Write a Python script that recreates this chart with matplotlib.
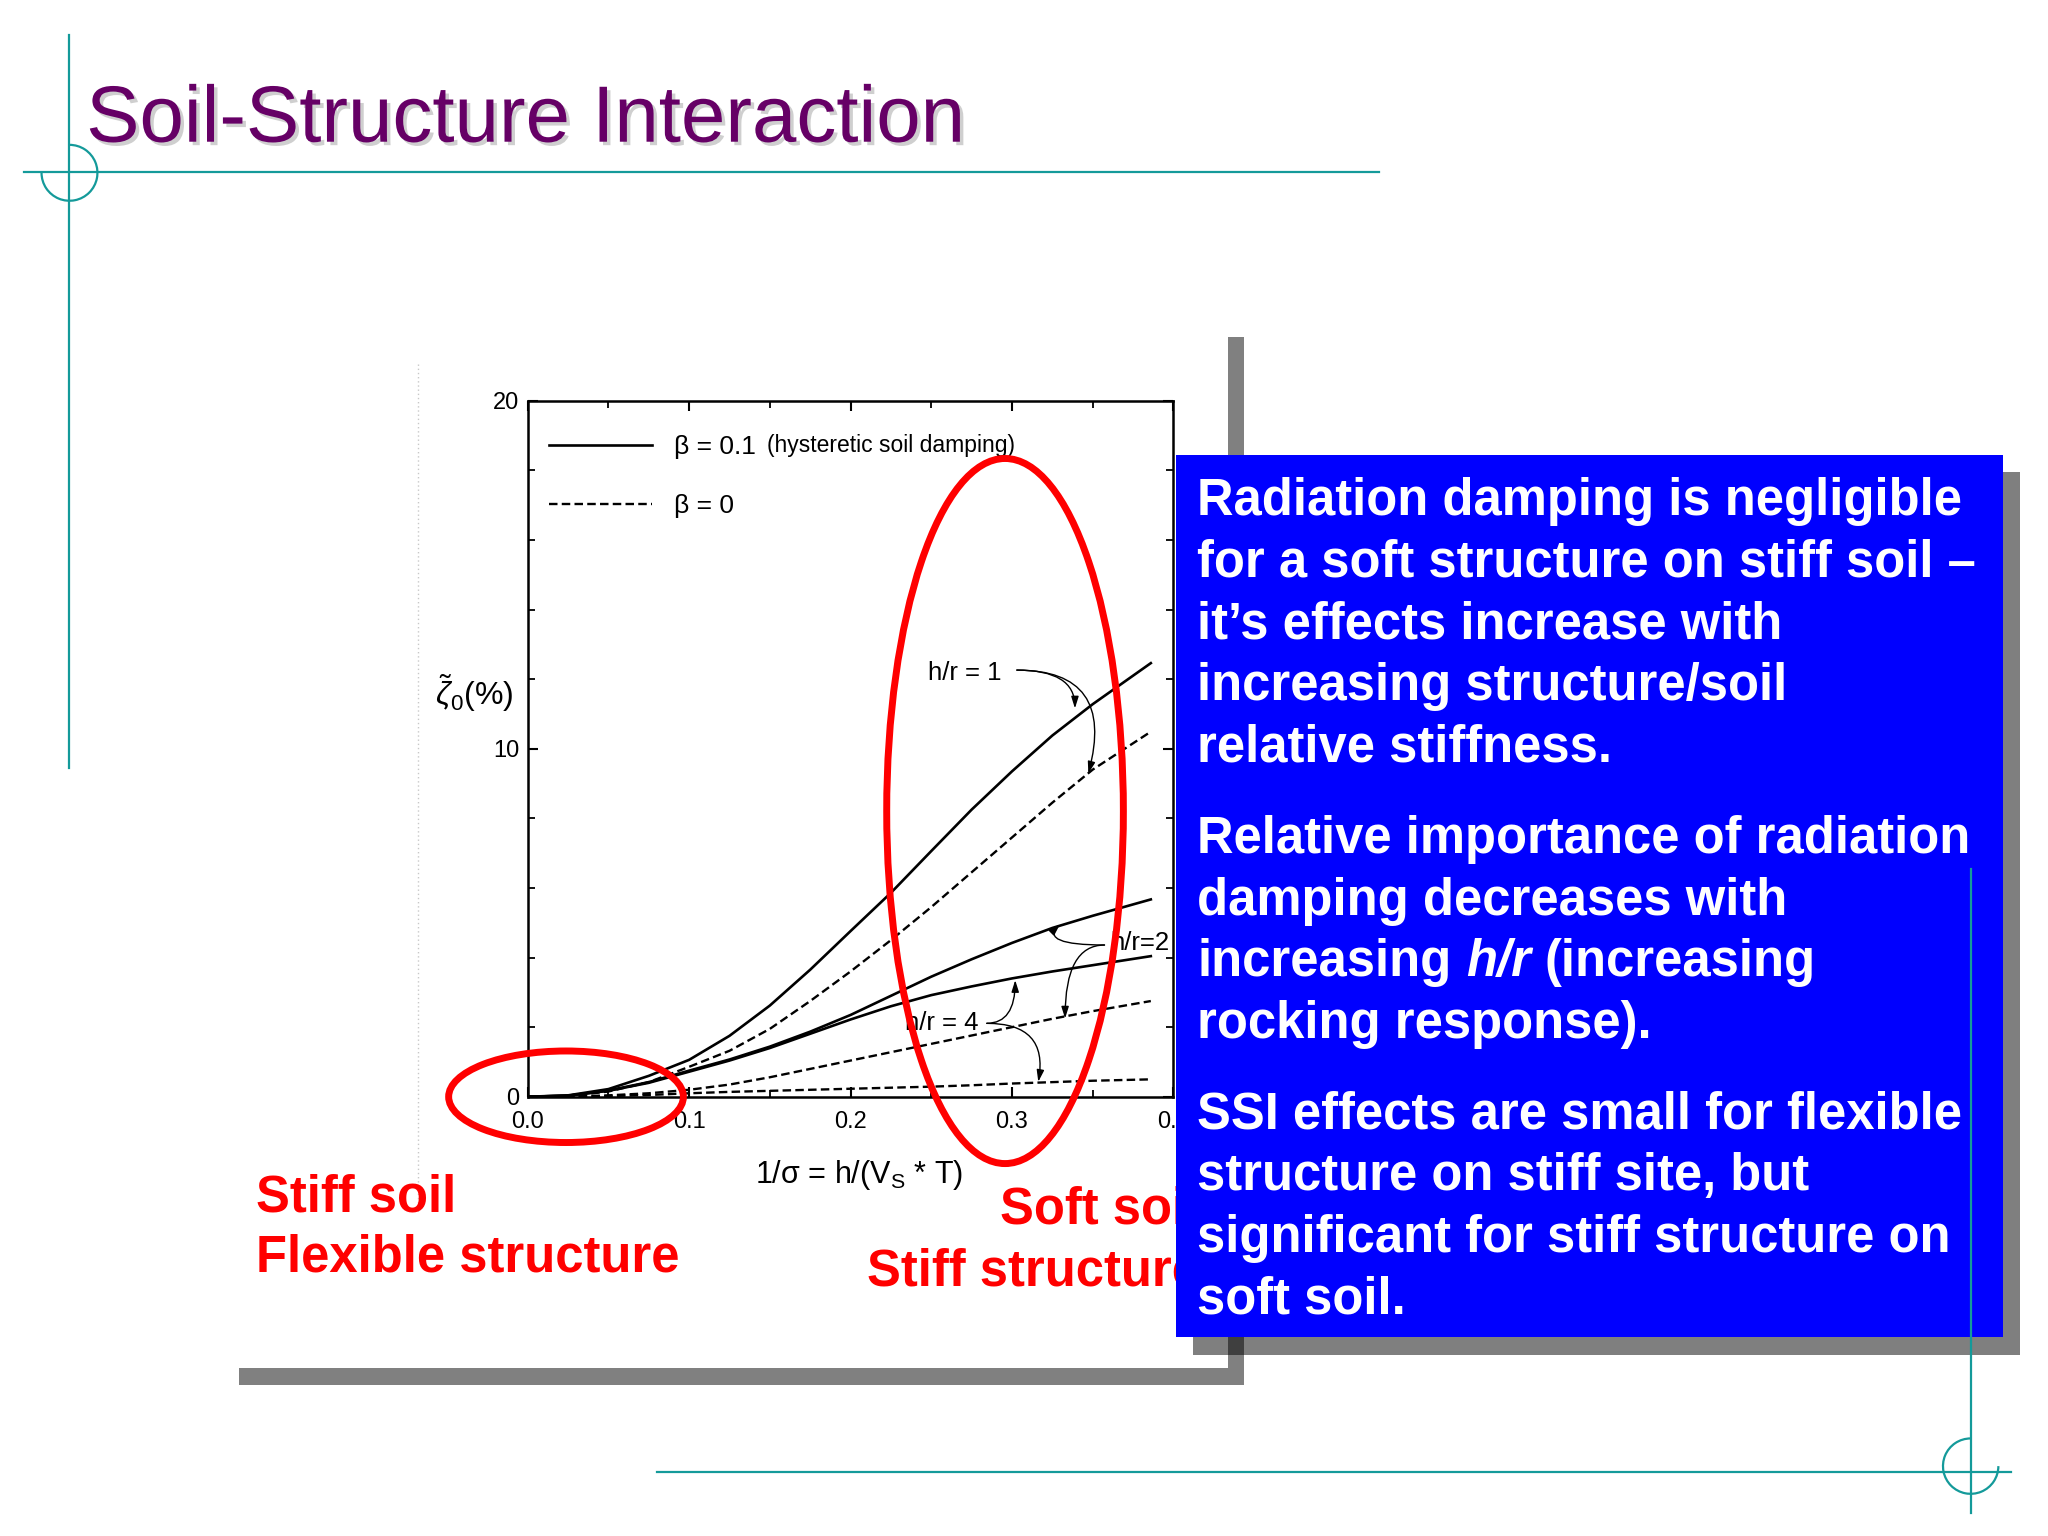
import matplotlib
matplotlib.use('Agg')
import matplotlib.pyplot as plt
from matplotlib.patches import Rectangle, Ellipse, Arc, Polygon
from matplotlib.lines import Line2D
import matplotlib.patheffects as pe

plt.rcParams['font.family'] = ['Liberation Sans', 'DejaVu Sans']
plt.rcParams['mathtext.fontset'] = 'custom'
plt.rcParams['mathtext.rm'] = 'Liberation Sans'
plt.rcParams['mathtext.it'] = 'Liberation Sans:italic'
plt.rcParams['mathtext.bf'] = 'Liberation Sans:bold'

# ---------------- data ----------------
inv_sigma = [0.0, 0.025, 0.05, 0.075, 0.1, 0.125, 0.15, 0.175, 0.2,
             0.225, 0.25, 0.275, 0.3, 0.325, 0.35, 0.386]
# beta = 0.1 (solid)
hr1_beta01 = [0, 0.04, 0.22, 0.60, 1.06, 1.75, 2.62, 3.65, 4.76,
              5.86, 7.06, 8.25, 9.35, 10.38, 11.28, 12.46]
hr2_beta01 = [0, 0.03, 0.18, 0.42, 0.75, 1.07, 1.44, 1.87, 2.35,
              2.9, 3.45, 3.95, 4.42, 4.85, 5.2, 5.67]
hr4_beta01 = [0, 0.03, 0.17, 0.40, 0.72, 1.04, 1.40, 1.81, 2.22,
              2.6, 2.92, 3.17, 3.4, 3.6, 3.78, 4.04]
# beta = 0 (dashed)
hr1_beta0 = [0, 0.02, 0.15, 0.42, 0.86, 1.32, 1.95, 2.75, 3.6,
             4.5, 5.45, 6.45, 7.45, 8.45, 9.4, 10.49]
hr2_beta0 = [0, 0.0, 0.04, 0.10, 0.20, 0.35, 0.56, 0.80, 1.04,
             1.28, 1.52, 1.76, 2.0, 2.24, 2.46, 2.75]
hr4_beta0 = [0, 0.0, 0.02, 0.05, 0.10, 0.14, 0.17, 0.20, 0.23,
             0.26, 0.29, 0.33, 0.38, 0.42, 0.46, 0.50]

x_ticks = [0.0, 0.1, 0.2, 0.3, 0.4]
x_ticklabels = ['0.0', '0.1', '0.2', '0.3', '0.4']
y_ticks = [0, 10, 20]
y_ticklabels = ['0', '10', '20']

title = 'Soil-Structure Interaction'
para1 = ['Radiation damping is negligible',
         'for a soft structure on stiff soil \u2013',
         'it\u2019s effects increase with',
         'increasing structure/soil',
         'relative stiffness.']
para2 = ['Relative importance of radiation',
         'damping decreases with',
         ('increasing ', 'h/r', ' (increasing'),
         'rocking response).']
para3 = ['SSI effects are small for flexible',
         'structure on stiff site, but',
         'significant for stiff structure on',
         'soft soil.']

# ---------------- layout helpers (reference layout units) ----------------
W, H = 1568.0, 1176.0
def fx(d):
    return d / W
def fy(d):
    return 1 - d / H

TEAL = '#149a9a'
PURPLE = '#660066'
RED = '#ff0000'
BLUE = '#0000ff'

fig = plt.figure(figsize=(20.48, 15.36), dpi=100)
fig.patch.set_facecolor('white')
tf = fig.transFigure

def fline(xs, ys, **kw):
    fig.add_artist(Line2D([fx(v) for v in xs], [fy(v) for v in ys],
                          transform=tf, **kw))

# teal decorations
fline([18.5, 1056], [131.4, 131.4], color=TEAL, lw=1.6, zorder=2)
fline([52.8, 52.8], [26.8, 588], color=TEAL, lw=1.6, zorder=2)
fig.add_artist(Arc((fx(53.2), fy(132.3)), 2 * 21.4 / W, 2 * 21.4 / H,
                   theta1=180, theta2=450, transform=tf, color=TEAL,
                   lw=1.6, zorder=2))
fline([503, 1540], [1127, 1127], color=TEAL, lw=1.6, zorder=25)
fline([1508.8, 1508.8], [665, 1158.6], color=TEAL, lw=1.6, zorder=25)
fig.add_artist(Arc((fx(1508.8), fy(1122.5)), 2 * 21.2 / W, 2 * 21.2 / H,
                   theta1=90, theta2=360, transform=tf, color=TEAL,
                   lw=1.6, zorder=25))

# title
fig.text(fx(66), fy(108.5), title, fontsize=57.5, color=PURPLE,
         va='baseline', ha='left', zorder=3,
         path_effects=[pe.SimplePatchShadow(offset=(2.5, -2.5),
                                            shadow_rgbFace='#a0a0a0',
                                            alpha=0.5),
                       pe.Normal()])

# picture shadow (L shape)
shadow_pts = [(940, 258.3), (952.6, 258.3), (952.6, 1060.5),
              (182.7, 1060.5), (182.7, 1047), (940, 1047)]
fig.add_artist(Polygon([(fx(a), fy(b)) for a, b in shadow_pts],
                       closed=True, transform=tf, fc='#808080',
                       ec='none', zorder=1))
# faint dotted picture edge
fline([319.7, 319.7], [278.7, 927.7], color='#c8c8c8', lw=1.0,
      ls=(0, (1, 2)), zorder=1)

# ---------------- chart ----------------
ax = fig.add_axes([fx(404), fy(839.7), (898.4 - 404) / W,
                   (839.7 - 306.8) / H], zorder=5)
ax.set_xlim(0, 0.4)
ax.set_ylim(0, 20)
DASH = (0, (3.6, 1.8))
ax.plot(inv_sigma, hr1_beta01, color='k', lw=1.9)
ax.plot(inv_sigma, hr2_beta01, color='k', lw=1.9)
ax.plot(inv_sigma, hr4_beta01, color='k', lw=1.9)
ax.plot(inv_sigma, hr1_beta0, color='k', lw=1.7, ls=DASH)
ax.plot(inv_sigma, hr2_beta0, color='k', lw=1.7, ls=DASH)
ax.plot(inv_sigma, hr4_beta0, color='k', lw=1.7, ls=DASH)

ax.set_xticks(x_ticks)
ax.set_xticklabels(x_ticklabels)
ax.set_xticks([0.05, 0.15, 0.25, 0.35], minor=True)
ax.set_yticks(y_ticks)
ax.set_yticklabels(y_ticklabels)
ax.set_yticks([2, 4, 6, 8, 12, 14, 16, 18], minor=True)
ax.tick_params(which='both', direction='in', top=True, right=True,
               colors='k')
ax.tick_params(which='major', length=7.5, width=1.5, labelsize=17)
ax.tick_params(which='minor', length=5, width=1.3)
ax.tick_params(axis='x', which='major', pad=10)
ax.tick_params(axis='y', which='major', pad=6)
for s in ax.spines.values():
    s.set_linewidth(1.8)

ax.set_xlabel('1/\u03c3 = h/(V$_\\mathregular{S}$ * T)', fontsize=22,
              va='center')
ax.xaxis.set_label_coords((658 - 404) / 494.4, (839.7 - 899.7) / 532.9)
ax.set_ylabel('$\\tilde{\\zeta}_\\mathregular{0}$(%)', fontsize=23,
              rotation=0, ha='left', va='center')
ax.yaxis.set_label_coords((333 - 404) / 494.4, (839.7 - 530.7) / 532.9)

leg_handles = [Line2D([], [], color='k', lw=1.9),
               Line2D([], [], color='k', lw=1.7, ls=DASH)]
ax.legend(leg_handles, ['\u03b2 = 0.1', '\u03b2 = 0'], loc='upper left',
          bbox_to_anchor=(0.0324, 0.951), frameon=False, fontsize=19,
          handlelength=3.9, handletextpad=0.85, labelspacing=1.33,
          borderpad=0, borderaxespad=0)
ax.text(0.1481, 18.72, '(hysteretic soil damping)', fontsize=16.5,
        ha='left', va='center')

# curve annotations
lab_kw = dict(fontsize=18.5, va='center', color='k')
ax.text(0.271, 12.19, 'h/r = 1', ha='center', **lab_kw)
ax.text(0.3608, 4.42, 'h/r=2', ha='left', clip_on=False, **lab_kw)
ax.text(0.2338, 2.11, 'h/r = 4', ha='left', **lab_kw)

def arrow(start, tip, angB):
    ax.annotate('', xy=tip, xytext=start,
                arrowprops=dict(arrowstyle='-|>,head_length=0.7,head_width=0.22',
                                connectionstyle='angle3,angleA=0,angleB=%g' % angB,
                                color='k', lw=1.0, shrinkA=0, shrinkB=0))

arrow((0.303, 12.26), (0.339, 11.16), 90)
arrow((0.303, 12.26), (0.3473, 9.29), 75)
arrow((0.3573, 4.36), (0.3298, 4.96), 45)
arrow((0.3573, 4.36), (0.3329, 2.25), 90)
arrow((0.2844, 2.11), (0.302, 3.35), 90)
arrow((0.2844, 2.11), (0.3163, 0.43), 80)

# red ellipses
ax.add_patch(Ellipse((0.2957, 8.21), 0.1466, 20.26, fill=False, ec=RED,
                     lw=5, clip_on=False, zorder=10))
ax.add_patch(Ellipse((0.02375, 0.0), 0.1454, 2.63, fill=False, ec=RED,
                     lw=5, clip_on=False, zorder=10))

# red labels
red_kw = dict(color=RED, fontsize=36.5, fontweight='bold', va='baseline',
              ha='left', zorder=15)
fig.text(fx(196), fy(927.3), 'Stiff soil', **red_kw)
fig.text(fx(196), fy(973.7), 'Flexible structure', **red_kw)
fig.text(fx(765.7), fy(937), 'Soft soil', **red_kw)
fig.text(fx(663.6), fy(984), 'Stiff structure', **red_kw)

# ---------------- blue text box ----------------
fig.add_artist(Rectangle((fx(913.4), fy(1037.2)), (1546.6 - 913.4) / W,
                         (1037.2 - 361.7) / H, transform=tf, fc='black',
                         alpha=0.5, ec='none', zorder=19))
fig.add_artist(Rectangle((fx(900.4), fy(1024)), (1533.4 - 900.4) / W,
                         (1024 - 348.4) / H, transform=tf, fc=BLUE,
                         ec='none', zorder=20))

blue_kw = dict(color='white', fontsize=36.5, fontweight='bold',
               va='baseline', ha='left', zorder=22)
renderer = fig.canvas.get_renderer()
FIGW = fig.get_figwidth() * fig.dpi

def width_px(s, **kw):
    t = fig.text(0, 0, s, **kw)
    w = t.get_window_extent(renderer).width
    t.remove()
    return w

space_w = width_px('a a', **blue_kw) - width_px('aa', **blue_kw)

x_left = 916.8
step = 47.1
para_starts = [394.3, 653.4, 864.2]
for start, para in zip(para_starts, [para1, para2, para3]):
    for i, line in enumerate(para):
        yb = fy(start + i * step)
        if isinstance(line, tuple):
            xcur = fx(x_left) * FIGW
            for j, seg in enumerate(line):
                style = 'italic' if j == 1 else 'normal'
                txt = seg.strip()
                lead = len(seg) - len(seg.lstrip())
                trail = len(seg) - len(seg.rstrip())
                xcur += lead * space_w
                t = fig.text(xcur / FIGW, yb, txt, fontstyle=style, **blue_kw)
                xcur += t.get_window_extent(renderer).width + trail * space_w
        else:
            fig.text(fx(x_left), yb, line, **blue_kw)

fig.savefig('out.png', dpi=100, facecolor='white')
